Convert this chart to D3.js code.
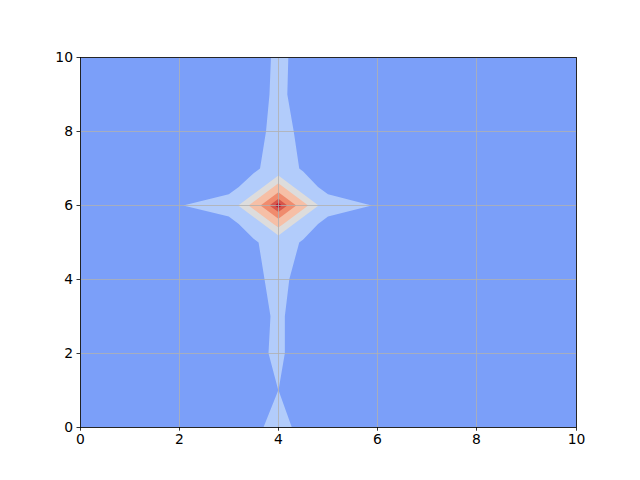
<!DOCTYPE html>
<html>
<head>
<meta charset="utf-8">
<script src="https://cdn.jsdelivr.net/npm/d3@7"></script>
<style>
  body { margin: 0; background: #ffffff; }
  svg { display: block; }
  .tick text { font-family: "DejaVu Sans", sans-serif; font-size: 13.9px; fill: #000; }
</style>
</head>
<body>
<svg id="chart" width="640" height="480"></svg>
<script>
// ---- data ----
const xGrid = [0, 1, 2, 3, 3.5, 4, 4.5, 5, 6, 7, 8, 9, 10];
const yGrid = [0, 1, 2, 3, 4, 5, 5.5, 6, 6.5, 7, 8, 9, 10];
// one row per yGrid value, one column per xGrid value
const zRows = [
  [-30, -30, -30,    -30,  -23.3,  10,    -27,    -30,    -30,   -30, -30, -30, -30], // y=0
  [-30, -30, -30,    -30,  -30,    -9.9,  -30,    -30,    -30,   -30, -30, -30, -30], // y=1
  [-30, -30, -30,    -30,  -30,     3.3,  -47.9,  -30,    -30,   -30, -30, -30, -30], // y=2
  [-30, -30, -30,    -30,  -30,    -0.6,  -36.8,  -30,    -30,   -30, -30, -30, -30], // y=3
  [-30, -30, -30,    -30,  -21.8,   5,    -29.1,  -30,    -30,   -30, -30, -30, -30], // y=4
  [-30, -30, -30,    -30,  -12.5,   0,    -11.9,  -30,    -30,   -30, -30, -30, -30], // y=5
  [-30, -30, -30,  -16.7,    0,    50,      0,    -16.7,  -30,   -30, -30, -30, -30], // y=5.5
  [-30, -30, -10.87,   0,   50,   100,     50,      0,    -11.36,-30, -30, -30, -30], // y=6
  [-30, -30, -30,  -16.7,    0,    50,      0,    -16.7,  -30,   -30, -30, -30, -30], // y=6.5
  [-30, -30, -30,    -30,  -13.5,   0,    -11.9,  -30,    -30,   -30, -30, -30, -30], // y=7
  [-30, -30, -30,    -30,  -30,    10,    -22.3,  -30,    -30,   -30, -30, -30, -30], // y=8
  [-30, -30, -30,    -30,  -30,     1.25, -30,    -30,    -30,   -30, -30, -30, -30], // y=9
  [-30, -30, -30,    -30,  -30,    -1.43, -22.86, -30,    -30,   -30, -30, -30, -30]  // y=10
];
const levels = [-10, 19, 40, 64, 82, 93];
const bandColors = ["#7b9ff9", "#b2ccfb", "#dddcdc", "#f6bfa6", "#f08b6d", "#d6564a", "#b8122b"];
const tickValues = [0, 2, 4, 6, 8, 10];
const tickLabels = ["0", "2", "4", "6", "8", "10"];

// ---- layout ----
const plotLeft = 80, plotRight = 576, plotTop = 57.6, plotBottom = 427.2;
const snap = v => Math.floor(v) + 0.5;

const svg = d3.select("#chart");
const x = d3.scaleLinear().domain([0, 10]).range([plotLeft, plotRight]);
const y = d3.scaleLinear().domain([0, 10]).range([plotBottom, plotTop]);

// grid index -> data coordinate (d3.contours places value i at i + 0.5)
const gx = d3.scaleLinear().domain(xGrid.map((_, i) => i + 0.5)).range(xGrid);
const gy = d3.scaleLinear().domain(yGrid.map((_, j) => j + 0.5)).range(yGrid);

const nx = xGrid.length, ny = yGrid.length;
const values = zRows.flat();
const contours = d3.contours().size([nx, ny]).thresholds(levels)(values);

const proj = d3.geoTransform({
  point(px, py) { this.stream.point(x(gx(px)), y(gy(py))); }
});
const path = d3.geoPath(proj);

svg.append("defs").append("clipPath").attr("id", "plotclip")
  .append("rect").attr("x", plotLeft).attr("y", plotTop)
  .attr("width", plotRight - plotLeft).attr("height", plotBottom - plotTop);

const plot = svg.append("g").attr("clip-path", "url(#plotclip)");
plot.append("rect").attr("x", plotLeft).attr("y", plotTop)
  .attr("width", plotRight - plotLeft).attr("height", plotBottom - plotTop)
  .attr("fill", bandColors[0]);

plot.selectAll("path.band").data(contours).join("path")
  .attr("class", "band")
  .attr("d", path)
  .attr("fill", (d, i) => bandColors[i + 1])
  .attr("stroke", "none");

// grid lines
const gridG = svg.append("g").attr("shape-rendering", "crispEdges");
gridG.selectAll("line.gx").data(tickValues).join("line")
  .attr("class", "gx")
  .attr("x1", d => snap(x(d))).attr("x2", d => snap(x(d)))
  .attr("y1", plotTop).attr("y2", plotBottom)
  .attr("stroke", "#b0b0b0").attr("stroke-opacity", 0.8).attr("stroke-width", 1);
gridG.selectAll("line.gy").data(tickValues).join("line")
  .attr("class", "gy")
  .attr("y1", d => snap(y(d))).attr("y2", d => snap(y(d)))
  .attr("x1", plotLeft).attr("x2", plotRight)
  .attr("stroke", "#b0b0b0").attr("stroke-opacity", 0.8).attr("stroke-width", 1);

// axes
const xAxis = d3.axisBottom(x).tickValues(tickValues)
  .tickFormat((d, i) => tickLabels[i]).tickSize(3.5).tickPadding(3.5).tickSizeOuter(0).offset(0);
const yAxis = d3.axisLeft(y).tickValues(tickValues)
  .tickFormat((d, i) => tickLabels[i]).tickSize(3.5).tickPadding(3.5).tickSizeOuter(0).offset(0);

const gX = svg.append("g").attr("transform", `translate(0,${plotBottom})`).call(xAxis);
const gY = svg.append("g").attr("transform", `translate(${plotLeft},0)`).call(yAxis);
[gX, gY].forEach(g => {
  g.select(".domain").remove();
  g.selectAll(".tick line").attr("stroke", "#000").attr("stroke-width", 0.8);
  g.attr("font-size", null).attr("font-family", null);
});
// snap tick marks to pixel centres
gX.selectAll(".tick").attr("transform", d => `translate(${snap(x(d))},0)`);
gY.selectAll(".tick").attr("transform", d => `translate(0,${snap(y(d))})`);

// spines
svg.append("rect").attr("x", snap(plotLeft)).attr("y", snap(plotTop))
  .attr("width", snap(plotRight) - snap(plotLeft)).attr("height", snap(plotBottom) - snap(plotTop))
  .attr("fill", "none").attr("stroke", "#000").attr("stroke-width", 0.8);
</script>
</body>
</html>
